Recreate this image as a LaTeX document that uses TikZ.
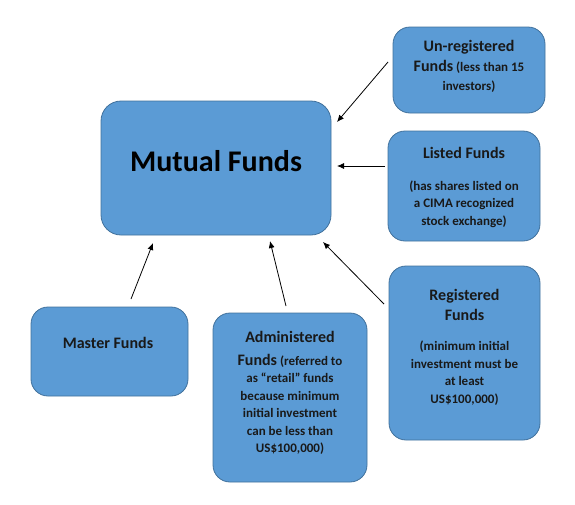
\documentclass[tikz,border=0pt]{standalone}
\usepackage{fontspec}
\setmainfont{Carlito}
\usetikzlibrary{arrows.meta}
\definecolor{boxfill}{HTML}{5B9BD5}
\definecolor{boxline}{HTML}{41719C}
\newcommand{\ttl}{\fontsize{16}{20}\selectfont}
\newcommand{\bdy}{\fontsize{13}{17.5}\selectfont}
\tikzset{
  box/.style={draw=boxline, line width=0.8pt, fill=boxfill, rounded corners=17pt, inner sep=0pt},
  txt/.style={align=center, font=\bfseries\bdy, inner sep=0pt, text=black!90},
  arr/.style={-{Latex[length=7pt,width=6pt]}, line width=0.8pt, black}
}
\begin{document}
\begin{tikzpicture}[x=1pt,y=-1pt]
\useasboundingbox (0,0) rectangle (575,504);
% boxes
\node[box, minimum width=230pt, minimum height=134pt, rounded corners=20pt] (mf) at (216,168) {};
\node[box, minimum width=152pt, minimum height=86pt] (un) at (469,70) {};
\node[box, minimum width=152pt, minimum height=110pt] (li) at (464,186) {};
\node[box, minimum width=151pt, minimum height=174pt] (re) at (464.5,353) {};
\node[box, minimum width=154pt, minimum height=169pt] (ad) at (290,397.5) {};
\node[box, minimum width=157pt, minimum height=89pt] (ma) at (109.5,351.5) {};
% texts
\node[font=\bfseries\fontsize{30}{34}\selectfont, inner sep=0pt] (mft) at (216,161) {Mutual Funds};
\node[txt] (unt) at (469,66) {{\ttl Un-registered}\\[3pt]{\ttl Funds} (less than 15\\[1pt]investors)};
\node[txt] (lit) at (464,153) {\ttl Listed Funds};
\node[txt] (lib) at (464,204) {(has shares listed on\\a CIMA recognized\\stock exchange)};
\node[txt] (ret) at (464.5,305) {{\ttl Registered}\\[2pt]{\ttl Funds}};
\node[txt] (reb) at (464.5,373) {(minimum initial\\investment must be\\at least\\US\$100,000)};
\node[txt] (adt) at (290,393) {{\ttl Administered}\\[5pt]{\ttl Funds} (referred to\\as “retail” funds\\because minimum\\initial investment\\can be less than\\US\$100,000)};
\node[txt] (mat) at (108,343) {\ttl Master Funds};
% connectors
\coordinate (unS) at (388,62);   \coordinate (unE) at (337,122);
\coordinate (liS) at (385,166);  \coordinate (liE) at (337,166);
\coordinate (reS) at (384,304);  \coordinate (reE) at (323,242);
\coordinate (adS) at (286,306);  \coordinate (adE) at (270,241);
\coordinate (maS) at (131,299);  \coordinate (maE) at (153,243);
\draw[arr] (unS) -- (unE);
\draw[arr] (liS) -- (liE);
\draw[arr] (reS) -- (reE);
\draw[arr] (adS) -- (adE);
\draw[arr] (maS) -- (maE);
\end{tikzpicture}
\end{document}
